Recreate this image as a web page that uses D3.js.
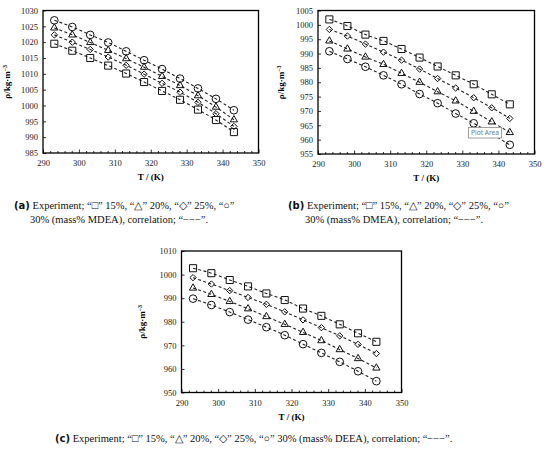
<!DOCTYPE html>
<html><head><meta charset="utf-8">
<script src="https://cdn.jsdelivr.net/npm/d3@7"></script>
<style>body{margin:0;background:#fff}svg{display:block}</style>
</head><body>
<svg id="chart" width="550" height="454"></svg>
<script>
// ---- data ----
const temps = [293.15, 298.15, 303.15, 308.15, 313.15, 318.15, 323.15, 328.15, 333.15, 338.15, 343.15];
const mdea15 = [1019.5, 1017.3, 1015.0, 1012.6, 1010.1, 1007.4, 1004.6, 1001.8, 998.7, 995.4, 991.6];
const mdea20 = [1024.5, 1022.3, 1019.9, 1017.4, 1014.8, 1012.1, 1009.2, 1006.3, 1003.1, 999.5, 995.5];
const mdea25 = [1022.3, 1020.0, 1017.7, 1015.3, 1012.7, 1009.9, 1007.0, 1004.2, 1001.0, 997.4, 993.4];
const mdea30 = [1026.9, 1024.8, 1022.3, 1019.9, 1017.1, 1014.3, 1011.5, 1008.5, 1005.4, 1002.1, 998.5];
const dmea15 = [1001.9, 999.6, 996.6, 994.4, 991.6, 988.6, 985.5, 982.4, 979.3, 975.8, 972.3];
const dmea20 = [994.4, 991.6, 988.8, 986.2, 983.1, 980.0, 976.7, 973.5, 969.9, 966.2, 962.5];
const dmea25 = [998.4, 996.1, 993.3, 990.5, 987.7, 984.6, 981.3, 978.0, 974.6, 971.1, 967.4];
const dmea30 = [990.8, 988.1, 985.4, 982.4, 979.3, 975.9, 972.7, 969.1, 965.7, 962.0, 958.2];
const deea15 = [1002.7, 1000.6, 997.7, 995.0, 992.0, 989.2, 985.6, 982.5, 978.9, 975.1, 971.5];
const deea20 = [994.3, 991.6, 988.6, 985.5, 982.2, 978.9, 975.5, 972.0, 968.2, 964.4, 960.4];
const deea25 = [998.7, 996.0, 993.2, 990.3, 987.4, 984.2, 980.8, 977.5, 974.0, 970.4, 966.5];
const deea30 = [989.8, 987.1, 984.1, 980.9, 977.7, 974.3, 970.5, 966.8, 963.0, 959.0, 954.8];
const xTicks = [290, 300, 310, 320, 330, 340, 350];
const yTicksA = [985, 990, 995, 1000, 1005, 1010, 1015, 1020, 1025, 1030];
const yTicksB = [955, 960, 965, 970, 975, 980, 985, 990, 995, 1000, 1005];
const yTicksC = [950, 960, 970, 980, 990, 1000, 1010];
const seriesSymbols = ["square", "triangle", "diamond", "circle"];
const captionA = ["Experiment; \u201c\u25a1\u201d 15%, \u201c\u25b3\u201d 20%, \u201c\u25c7\u201d 25%, \u201c\u25cb\u201d", "30% (mass% MDEA), correlation; \u201c\u2212\u2212\u2212\u201d."];
const captionB = ["Experiment; \u201c\u25a1\u201d 15%, \u201c\u25b3\u201d 20%, \u201c\u25c7\u201d 25%, \u201c\u25cb\u201d", "30% (mass% DMEA), correlation; \u201c\u2212\u2212\u2212\u201d."];
const captionC = ["Experiment; \u201c\u25a1\u201d 15%, \u201c\u25b3\u201d 20%, \u201c\u25c7\u201d 25%, \u201c\u25cb\u201d 30% (mass% DEEA), correlation; \u201c\u2212\u2212\u2212\u201d."];

// ---- drawing ----
const svg = d3.select("#chart");
const serif = "'Liberation Serif','Times New Roman',serif";

const panels = [
  {box:[43, 258.5, 10.5, 153], y:[985,1030], yt:yTicksA, series:[mdea15, mdea20, mdea25, mdea30], ylab:10, tag:"(a)", cap:captionA, capX:[14, 30], capY:[205, 219]},
  {box:[318, 534.5, 10.5, 154], y:[955,1005], yt:yTicksB, series:[dmea15, dmea20, dmea25, dmea30], ylab:284, tag:"(b)", cap:captionB, capX:[288, 305], capY:[205, 219], tip:true},
  {box:[181.5, 401.5, 251, 392.5], y:[950,1010], yt:yTicksC, series:[deea15, deea20, deea25, deea30], ylab:145, tag:"(c)", cap:captionC, capX:[55], capY:[438]}
];

const symGen = {
  square: d3.symbol(d3.symbolSquare, 50),
  triangle: d3.symbol(d3.symbolTriangle2, 38),
  diamond: d3.symbol(d3.symbolDiamond2, 26),
  circle: d3.symbol(d3.symbolCircle, 46)
};

panels.forEach(p => {
  const [x0, x1, y0, y1] = p.box;
  const x = d3.scaleLinear().domain([290, 350]).range([x0, x1]);
  const y = d3.scaleLinear().domain(p.y).range([y1, y0]);
  const g = svg.append("g");

  // minor x ticks (inward)
  const minor = d3.range(292, 350, 2).filter(v => v % 10 !== 0);
  g.append("g").attr("transform", `translate(0,${y1})`)
    .call(d3.axisBottom(x).tickValues(minor).tickSize(-2).tickFormat(""))
    .call(a => a.select(".domain").remove())
    .call(a => a.selectAll("line").attr("stroke", "#000").attr("stroke-width", 0.8));
  // major x ticks
  g.append("g").attr("transform", `translate(0,${y1})`)
    .call(d3.axisBottom(x).tickValues(xTicks).tickSize(-3.5).tickPadding(7).tickFormat(d3.format("d")))
    .call(a => a.select(".domain").remove())
    .call(a => a.selectAll("line").attr("stroke", "#000").attr("stroke-width", 0.8))
    .call(a => a.selectAll("text").attr("font-family", serif).attr("font-size", 8.5).attr("fill", "#222"));
  // y ticks
  g.append("g").attr("transform", `translate(${x0},0)`)
    .call(d3.axisLeft(y).tickValues(p.yt).tickSize(-3).tickPadding(5).tickFormat(d3.format("d")))
    .call(a => a.select(".domain").remove())
    .call(a => a.selectAll("line").attr("stroke", "#000").attr("stroke-width", 0.8))
    .call(a => a.selectAll("text").attr("font-family", serif).attr("font-size", 8.5).attr("fill", "#222"));

  // box
  g.append("rect").attr("x", x0).attr("y", y0).attr("width", x1 - x0).attr("height", y1 - y0)
    .attr("fill", "none").attr("stroke", "#000").attr("stroke-width", 1.3);

  // correlation lines & markers
  p.series.forEach((vals, i) => {
    const pts = temps.map((t, k) => [t, vals[k]]);
    g.append("path").datum(pts)
      .attr("d", d3.line().x(d => x(d[0])).y(d => y(d[1])).curve(d3.curveMonotoneX))
      .attr("fill", "none").attr("stroke", "#222").attr("stroke-width", 1.1)
      .attr("stroke-dasharray", "3,2.4");
    g.selectAll(null).data(pts).enter().append("path")
      .attr("d", symGen[seriesSymbols[i]])
      .attr("transform", d => `translate(${x(d[0])},${y(d[1])})`)
      .attr("fill", "none").attr("stroke", "#111").attr("stroke-width", 1);
  });

  // axis titles
  g.append("text").attr("x", (x0 + x1) / 2).attr("y", y1 + 27)
    .attr("text-anchor", "middle").attr("font-family", serif).attr("font-weight", "bold")
    .attr("font-size", 9).text("T / (K)");
  const yl = g.append("text").attr("transform", `translate(${p.ylab},${(y0 + y1) / 2}) rotate(-90)`)
    .attr("text-anchor", "middle").attr("font-family", serif).attr("font-weight", "bold")
    .attr("font-size", 9);
  yl.append("tspan").text("\u03c1/kg\u00b7m");
  yl.append("tspan").attr("font-size", 6).attr("dy", -3.5).text("\u22123");

  // tooltip "Plot Area"
  if (p.tip) {
    g.append("rect").attr("x", 468.5).attr("y", 127.5).attr("width", 33).attr("height", 10.5)
      .attr("fill", "#fff").attr("stroke", "#8a8a8a").attr("stroke-width", 0.8);
    g.append("text").attr("x", 485).attr("y", 135.3).attr("text-anchor", "middle")
      .attr("font-family", "'Noto Sans','DejaVu Sans',sans-serif").attr("font-size", 6.6)
      .attr("fill", "#6b7a8a").text("Plot Area");
  }

  // caption
  p.cap.forEach((line, li) => {
    const t = svg.append("text").attr("x", li === 0 ? p.capX[0] : p.capX[1]).attr("y", p.capY[li] + 3.5)
      .attr("font-family", serif).attr("font-size", 10.5).attr("fill", "#111");
    if (li === 0) {
      t.append("tspan").attr("font-family", "'DejaVu Sans','Noto Sans',sans-serif").attr("font-weight", "bold").attr("font-size", 10).text(p.tag);
      t.append("tspan").text(" " + line);
    } else {
      t.text(line);
    }
  });
});
</script>
</body></html>
